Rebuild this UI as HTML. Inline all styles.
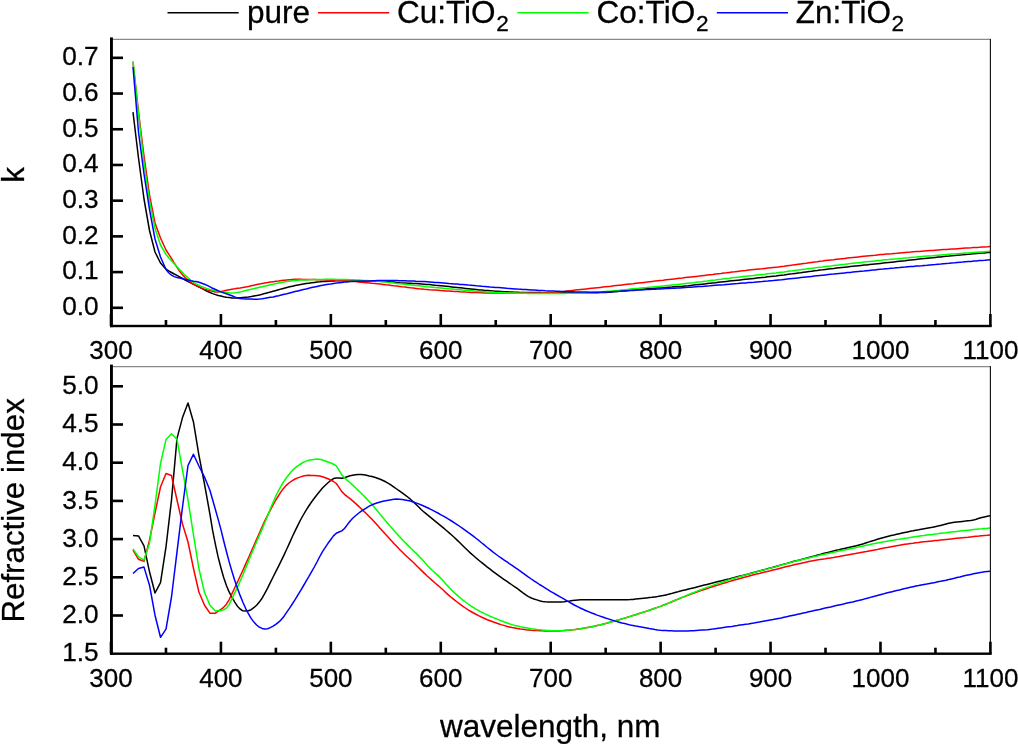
<!DOCTYPE html>
<html lang="en"><head><meta charset="utf-8"><title>k and refractive index vs wavelength</title>
<style>
html,body{margin:0;padding:0;background:#ffffff;}
body{width:1018px;height:744px;overflow:hidden;}
svg{display:block;}
text{font-family:"Liberation Sans",Arial,Helvetica,sans-serif;fill:#000000;stroke:#000000;stroke-width:0.28px;}
.tl{font-size:26px;}
.yl{font-size:26.2px;}
.ti{font-size:31.5px;}
.ti2{font-size:31.3px;}
.sub{font-size:22.6px;}
.c{fill:none;stroke-width:1.5;stroke-linejoin:round;stroke-linecap:butt;}
</style></head><body>
<svg width="1018" height="744" viewBox="0 0 1018 744">
<rect x="0" y="0" width="1018" height="744" fill="#ffffff"/>
<g id="top-curves">
<polyline class="c" stroke="#000000" points="133.0,112.2 138.5,158.0 144.0,199.0 149.5,230.5 155.0,252.0 160.5,263.0 166.0,269.2 168.7,270.9 171.5,272.5 174.2,274.0 177.0,275.4 179.7,276.8 182.5,278.3 185.2,280.0 188.0,281.5 190.7,282.9 193.5,284.3 196.2,285.6 199.0,287.0 201.7,288.4 204.5,289.9 207.2,291.3 210.0,292.5 212.7,293.6 215.5,294.6 218.2,295.5 221.0,296.1 223.7,296.7 226.4,297.2 229.2,297.5 231.9,297.9 234.7,298.1 237.4,298.1 240.2,297.8 242.9,297.5 245.7,297.2 248.4,296.9 251.2,296.5 253.9,296.0 256.7,295.5 259.4,294.9 262.2,294.2 264.9,293.4 267.7,292.7 270.4,292.0 273.2,291.2 275.9,290.5 278.7,289.7 281.4,288.9 284.1,288.2 286.9,287.5 289.6,286.8 292.4,286.2 295.1,285.6 297.9,285.1 300.6,284.6 303.4,284.1 306.1,283.6 308.9,283.2 311.6,282.8 314.4,282.4 317.1,282.0 319.9,281.8 322.6,281.5 325.4,281.4 328.1,281.2 330.9,281.0 333.6,280.9 336.4,280.8 339.1,280.8 341.9,280.8 344.6,280.8 347.3,280.8 350.1,280.8 352.8,280.8 355.6,280.8 358.3,280.8 361.1,280.9 363.8,280.9 366.6,281.0 369.3,281.0 372.1,281.1 374.8,281.2 377.6,281.3 380.3,281.3 383.1,281.4 385.8,281.6 388.6,281.7 391.3,281.9 394.1,282.1 396.8,282.4 399.6,282.7 402.3,282.9 405.0,283.0 407.8,283.2 410.5,283.3 413.3,283.5 416.0,283.6 418.8,283.8 421.5,284.0 424.3,284.2 427.0,284.4 429.8,284.6 432.5,284.9 435.3,285.2 438.0,285.4 440.8,285.7 443.5,286.0 446.3,286.3 449.0,286.6 451.8,286.9 454.5,287.2 457.3,287.5 460.0,287.8 462.7,288.1 465.5,288.4 468.2,288.7 471.0,289.0 473.7,289.3 476.5,289.6 479.2,289.9 482.0,290.1 484.7,290.4 487.5,290.6 490.2,290.8 493.0,291.0 495.7,291.2 498.5,291.3 501.2,291.5 504.0,291.7 506.7,291.8 509.5,292.0 512.2,292.1 515.0,292.2 517.7,292.3 520.4,292.4 523.2,292.4 525.9,292.5 528.7,292.5 531.4,292.5 534.2,292.6 536.9,292.6 539.7,292.6 542.4,292.7 545.2,292.7 547.9,292.7 550.7,292.7 553.4,292.7 556.2,292.7 558.9,292.7 561.7,292.7 564.4,292.7 567.2,292.7 569.9,292.7 572.7,292.7 575.4,292.7 578.1,292.7 580.9,292.7 583.6,292.7 586.4,292.7 589.1,292.7 591.9,292.7 594.6,292.7 597.4,292.7 600.1,292.6 602.9,292.5 605.6,292.4 608.4,292.2 611.1,292.0 613.9,291.8 616.6,291.5 619.4,291.3 622.1,291.0 624.9,290.7 627.6,290.5 630.4,290.2 633.1,289.9 635.9,289.7 638.6,289.4 641.3,289.2 644.1,289.0 646.8,288.8 649.6,288.6 652.3,288.4 655.1,288.2 657.8,288.0 660.6,287.9 663.3,287.7 666.1,287.5 668.8,287.3 671.6,287.1 674.3,286.8 677.1,286.6 679.8,286.4 682.6,286.2 685.3,285.9 688.1,285.7 690.8,285.4 693.6,285.1 696.3,284.8 699.0,284.5 701.8,284.2 704.5,283.9 707.3,283.6 710.0,283.3 712.8,283.0 715.5,282.7 718.3,282.3 721.0,282.0 723.8,281.7 726.5,281.4 729.3,281.1 732.0,280.8 734.8,280.5 737.5,280.2 740.3,279.9 743.0,279.6 745.8,279.3 748.5,279.0 751.3,278.7 754.0,278.4 756.7,278.1 759.5,277.8 762.2,277.5 765.0,277.2 767.7,276.8 770.5,276.5 773.2,276.2 776.0,275.9 778.7,275.5 781.5,275.2 784.2,274.9 787.0,274.5 789.7,274.1 792.5,273.8 795.2,273.4 798.0,273.0 800.7,272.7 803.5,272.3 806.2,271.9 809.0,271.5 811.7,271.2 814.4,270.8 817.2,270.5 819.9,270.1 822.7,269.8 825.4,269.4 828.2,269.1 830.9,268.8 833.7,268.5 836.4,268.1 839.2,267.8 841.9,267.5 844.7,267.2 847.4,266.9 850.2,266.6 852.9,266.3 855.7,266.0 858.4,265.7 861.2,265.4 863.9,265.1 866.7,264.9 869.4,264.6 872.2,264.3 874.9,264.0 877.6,263.7 880.4,263.4 883.1,263.1 885.9,262.8 888.6,262.5 891.4,262.2 894.1,261.9 896.9,261.6 899.6,261.3 902.4,261.0 905.1,260.7 907.9,260.3 910.6,260.0 913.4,259.7 916.1,259.4 918.9,259.1 921.6,258.8 924.4,258.6 927.1,258.3 929.9,258.0 932.6,257.7 935.3,257.4 938.1,257.1 940.8,256.9 943.6,256.6 946.3,256.3 949.1,256.1 951.8,255.8 954.6,255.6 957.3,255.3 960.1,255.0 962.8,254.8 965.6,254.5 968.3,254.3 971.1,254.0 973.8,253.8 976.6,253.6 979.3,253.3 982.1,253.1 984.8,252.9 987.6,252.6 990.3,252.4"/>
<polyline class="c" stroke="#ff0000" points="133.0,62.5 138.5,112.0 144.0,156.0 149.5,195.1 155.0,223.0 160.5,238.0 166.0,250.0 168.7,254.2 171.5,258.4 174.2,262.9 177.0,267.3 179.7,271.3 182.5,274.8 185.2,277.8 188.0,280.3 190.7,282.4 193.5,284.1 196.2,285.6 199.0,286.9 201.7,288.1 204.5,289.1 207.2,289.9 210.0,290.6 212.7,291.3 215.5,291.9 218.2,291.9 221.0,291.6 223.7,290.9 226.4,290.2 229.2,289.7 231.9,289.2 234.7,288.8 237.4,288.3 240.2,287.9 242.9,287.4 245.7,286.9 248.4,286.4 251.2,285.8 253.9,285.2 256.7,284.6 259.4,284.1 262.2,283.5 264.9,283.0 267.7,282.6 270.4,282.1 273.2,281.7 275.9,281.3 278.7,281.0 281.4,280.6 284.1,280.3 286.9,280.0 289.6,279.7 292.4,279.5 295.1,279.3 297.9,279.3 300.6,279.3 303.4,279.4 306.1,279.4 308.9,279.5 311.6,279.6 314.4,279.6 317.1,279.7 319.9,279.8 322.6,279.8 325.4,279.9 328.1,280.0 330.9,280.1 333.6,280.2 336.4,280.3 339.1,280.4 341.9,280.5 344.6,280.7 347.3,280.8 350.1,281.0 352.8,281.3 355.6,281.6 358.3,281.9 361.1,282.2 363.8,282.5 366.6,282.7 369.3,283.0 372.1,283.3 374.8,283.5 377.6,283.8 380.3,284.1 383.1,284.4 385.8,284.8 388.6,285.1 391.3,285.4 394.1,285.8 396.8,286.1 399.6,286.4 402.3,286.8 405.0,287.1 407.8,287.4 410.5,287.8 413.3,288.1 416.0,288.4 418.8,288.7 421.5,288.9 424.3,289.2 427.0,289.4 429.8,289.7 432.5,289.9 435.3,290.1 438.0,290.3 440.8,290.6 443.5,290.8 446.3,291.0 449.0,291.1 451.8,291.3 454.5,291.5 457.3,291.6 460.0,291.8 462.7,291.9 465.5,292.1 468.2,292.2 471.0,292.4 473.7,292.5 476.5,292.6 479.2,292.7 482.0,292.8 484.7,292.9 487.5,292.9 490.2,292.9 493.0,292.9 495.7,292.9 498.5,292.9 501.2,292.9 504.0,292.9 506.7,292.9 509.5,292.9 512.2,292.9 515.0,292.9 517.7,292.9 520.4,292.9 523.2,292.9 525.9,292.9 528.7,292.9 531.4,292.9 534.2,292.9 536.9,292.9 539.7,292.9 542.4,292.8 545.2,292.8 547.9,292.7 550.7,292.7 553.4,292.6 556.2,292.4 558.9,292.1 561.7,291.8 564.4,291.4 567.2,291.0 569.9,290.7 572.7,290.4 575.4,290.1 578.1,289.8 580.9,289.5 583.6,289.2 586.4,288.9 589.1,288.6 591.9,288.3 594.6,288.0 597.4,287.7 600.1,287.4 602.9,287.1 605.6,286.8 608.4,286.5 611.1,286.2 613.9,285.8 616.6,285.5 619.4,285.2 622.1,284.9 624.9,284.6 627.6,284.3 630.4,284.0 633.1,283.7 635.9,283.3 638.6,283.0 641.3,282.7 644.1,282.4 646.8,282.1 649.6,281.7 652.3,281.4 655.1,281.1 657.8,280.8 660.6,280.5 663.3,280.2 666.1,279.8 668.8,279.5 671.6,279.2 674.3,278.9 677.1,278.6 679.8,278.3 682.6,278.0 685.3,277.6 688.1,277.3 690.8,277.0 693.6,276.7 696.3,276.4 699.0,276.1 701.8,275.7 704.5,275.4 707.3,275.1 710.0,274.8 712.8,274.5 715.5,274.1 718.3,273.8 721.0,273.5 723.8,273.1 726.5,272.8 729.3,272.4 732.0,272.1 734.8,271.8 737.5,271.4 740.3,271.1 743.0,270.8 745.8,270.5 748.5,270.1 751.3,269.8 754.0,269.5 756.7,269.2 759.5,268.9 762.2,268.7 765.0,268.4 767.7,268.1 770.5,267.8 773.2,267.5 776.0,267.2 778.7,266.9 781.5,266.5 784.2,266.2 787.0,265.8 789.7,265.4 792.5,265.1 795.2,264.7 798.0,264.3 800.7,263.9 803.5,263.5 806.2,263.2 809.0,262.8 811.7,262.4 814.4,262.0 817.2,261.7 819.9,261.3 822.7,261.0 825.4,260.6 828.2,260.3 830.9,260.0 833.7,259.7 836.4,259.3 839.2,259.0 841.9,258.7 844.7,258.4 847.4,258.1 850.2,257.8 852.9,257.5 855.7,257.2 858.4,256.9 861.2,256.6 863.9,256.3 866.7,256.0 869.4,255.7 872.2,255.4 874.9,255.2 877.6,254.9 880.4,254.6 883.1,254.4 885.9,254.1 888.6,253.9 891.4,253.7 894.1,253.4 896.9,253.2 899.6,252.9 902.4,252.7 905.1,252.5 907.9,252.3 910.6,252.1 913.4,251.8 916.1,251.6 918.9,251.4 921.6,251.2 924.4,251.0 927.1,250.8 929.9,250.6 932.6,250.4 935.3,250.2 938.1,250.0 940.8,249.8 943.6,249.6 946.3,249.4 949.1,249.2 951.8,249.0 954.6,248.9 957.3,248.7 960.1,248.5 962.8,248.3 965.6,248.1 968.3,247.9 971.1,247.8 973.8,247.6 976.6,247.4 979.3,247.3 982.1,247.1 984.8,246.9 987.6,246.8 990.3,246.6"/>
<polyline class="c" stroke="#00ff00" points="133.0,61.2 138.5,114.0 144.0,163.0 149.5,201.2 155.0,228.3 160.5,245.0 166.0,254.5 168.7,257.7 171.5,260.8 174.2,263.8 177.0,266.8 179.7,269.7 182.5,272.6 185.2,275.4 188.0,277.9 190.7,280.1 193.5,282.1 196.2,283.8 199.0,285.3 201.7,286.6 204.5,287.6 207.2,288.6 210.0,289.4 212.7,290.1 215.5,290.8 218.2,291.4 221.0,291.9 223.7,292.4 226.4,292.6 229.2,292.8 231.9,292.9 234.7,292.8 237.4,292.6 240.2,292.1 242.9,291.3 245.7,290.6 248.4,289.9 251.2,289.2 253.9,288.6 256.7,287.9 259.4,287.3 262.2,286.7 264.9,286.1 267.7,285.4 270.4,284.8 273.2,284.2 275.9,283.6 278.7,283.1 281.4,282.6 284.1,282.1 286.9,281.6 289.6,281.2 292.4,280.8 295.1,280.5 297.9,280.3 300.6,280.1 303.4,280.0 306.1,279.9 308.9,279.7 311.6,279.7 314.4,279.6 317.1,279.5 319.9,279.4 322.6,279.4 325.4,279.3 328.1,279.3 330.9,279.3 333.6,279.3 336.4,279.4 339.1,279.4 341.9,279.5 344.6,279.5 347.3,279.6 350.1,279.7 352.8,279.8 355.6,280.0 358.3,280.1 361.1,280.3 363.8,280.5 366.6,280.6 369.3,280.8 372.1,280.9 374.8,281.1 377.6,281.2 380.3,281.5 383.1,281.7 385.8,282.0 388.6,282.4 391.3,282.7 394.1,283.1 396.8,283.4 399.6,283.7 402.3,284.0 405.0,284.3 407.8,284.6 410.5,284.9 413.3,285.2 416.0,285.5 418.8,285.8 421.5,286.1 424.3,286.4 427.0,286.7 429.8,286.9 432.5,287.2 435.3,287.5 438.0,287.7 440.8,288.0 443.5,288.3 446.3,288.5 449.0,288.8 451.8,289.0 454.5,289.3 457.3,289.5 460.0,289.7 462.7,290.0 465.5,290.2 468.2,290.5 471.0,290.7 473.7,290.9 476.5,291.2 479.2,291.4 482.0,291.6 484.7,291.8 487.5,292.0 490.2,292.1 493.0,292.2 495.7,292.4 498.5,292.5 501.2,292.6 504.0,292.7 506.7,292.9 509.5,293.0 512.2,293.0 515.0,293.1 517.7,293.2 520.4,293.3 523.2,293.3 525.9,293.3 528.7,293.4 531.4,293.4 534.2,293.4 536.9,293.4 539.7,293.4 542.4,293.5 545.2,293.5 547.9,293.5 550.7,293.5 553.4,293.5 556.2,293.5 558.9,293.5 561.7,293.4 564.4,293.4 567.2,293.3 569.9,293.3 572.7,293.2 575.4,293.1 578.1,293.0 580.9,292.9 583.6,292.7 586.4,292.6 589.1,292.5 591.9,292.4 594.6,292.2 597.4,292.1 600.1,291.9 602.9,291.7 605.6,291.5 608.4,291.3 611.1,291.1 613.9,290.8 616.6,290.5 619.4,290.3 622.1,290.0 624.9,289.7 627.6,289.4 630.4,289.1 633.1,288.8 635.9,288.5 638.6,288.3 641.3,288.0 644.1,287.7 646.8,287.5 649.6,287.2 652.3,287.0 655.1,286.7 657.8,286.4 660.6,286.2 663.3,285.9 666.1,285.6 668.8,285.4 671.6,285.1 674.3,284.8 677.1,284.5 679.8,284.2 682.6,283.9 685.3,283.6 688.1,283.3 690.8,283.0 693.6,282.7 696.3,282.3 699.0,282.0 701.8,281.7 704.5,281.3 707.3,281.0 710.0,280.6 712.8,280.2 715.5,279.9 718.3,279.5 721.0,279.2 723.8,278.8 726.5,278.5 729.3,278.2 732.0,277.8 734.8,277.5 737.5,277.2 740.3,276.9 743.0,276.6 745.8,276.3 748.5,276.0 751.3,275.7 754.0,275.4 756.7,275.1 759.5,274.8 762.2,274.5 765.0,274.2 767.7,273.8 770.5,273.5 773.2,273.2 776.0,272.9 778.7,272.5 781.5,272.2 784.2,271.9 787.0,271.5 789.7,271.1 792.5,270.8 795.2,270.4 798.0,270.1 800.7,269.7 803.5,269.3 806.2,269.0 809.0,268.6 811.7,268.3 814.4,267.9 817.2,267.5 819.9,267.2 822.7,266.9 825.4,266.5 828.2,266.2 830.9,265.9 833.7,265.5 836.4,265.2 839.2,264.9 841.9,264.6 844.7,264.3 847.4,263.9 850.2,263.6 852.9,263.3 855.7,263.0 858.4,262.7 861.2,262.4 863.9,262.1 866.7,261.8 869.4,261.5 872.2,261.2 874.9,260.9 877.6,260.6 880.4,260.4 883.1,260.1 885.9,259.8 888.6,259.6 891.4,259.3 894.1,259.0 896.9,258.8 899.6,258.5 902.4,258.3 905.1,258.0 907.9,257.8 910.6,257.5 913.4,257.3 916.1,257.1 918.9,256.8 921.6,256.6 924.4,256.3 927.1,256.1 929.9,255.9 932.6,255.7 935.3,255.4 938.1,255.2 940.8,255.0 943.6,254.8 946.3,254.6 949.1,254.3 951.8,254.1 954.6,253.9 957.3,253.7 960.1,253.5 962.8,253.3 965.6,253.1 968.3,252.9 971.1,252.7 973.8,252.5 976.6,252.3 979.3,252.1 982.1,251.9 984.8,251.7 987.6,251.5 990.3,251.3"/>
<polyline class="c" stroke="#0000ff" points="133.0,67.0 138.5,132.0 144.0,174.0 149.5,209.3 155.0,239.0 160.5,257.0 166.0,269.5 168.7,272.8 171.5,275.2 174.2,276.6 177.0,277.5 179.7,278.1 182.5,278.7 185.2,279.5 188.0,280.1 190.7,280.7 193.5,281.2 196.2,281.6 199.0,282.3 201.7,283.2 204.5,284.2 207.2,285.4 210.0,286.8 212.7,288.3 215.5,289.5 218.2,290.8 221.0,291.9 223.7,292.9 226.4,293.8 229.2,294.7 231.9,295.7 234.7,296.9 237.4,297.9 240.2,298.4 242.9,298.7 245.7,298.9 248.4,299.0 251.2,299.1 253.9,299.2 256.7,299.2 259.4,299.0 262.2,298.7 264.9,298.3 267.7,297.8 270.4,297.3 273.2,296.9 275.9,296.3 278.7,295.7 281.4,295.0 284.1,294.3 286.9,293.7 289.6,293.0 292.4,292.3 295.1,291.6 297.9,290.9 300.6,290.2 303.4,289.5 306.1,288.9 308.9,288.2 311.6,287.6 314.4,287.0 317.1,286.4 319.9,285.8 322.6,285.3 325.4,284.8 328.1,284.3 330.9,283.9 333.6,283.4 336.4,283.1 339.1,282.7 341.9,282.4 344.6,282.1 347.3,281.9 350.1,281.6 352.8,281.4 355.6,281.3 358.3,281.2 361.1,281.1 363.8,281.0 366.6,280.9 369.3,280.9 372.1,280.8 374.8,280.7 377.6,280.6 380.3,280.6 383.1,280.5 385.8,280.5 388.6,280.5 391.3,280.5 394.1,280.5 396.8,280.6 399.6,280.7 402.3,280.8 405.0,280.8 407.8,280.9 410.5,281.0 413.3,281.1 416.0,281.3 418.8,281.4 421.5,281.5 424.3,281.6 427.0,281.8 429.8,282.0 432.5,282.2 435.3,282.4 438.0,282.6 440.8,282.8 443.5,283.0 446.3,283.2 449.0,283.5 451.8,283.7 454.5,283.9 457.3,284.1 460.0,284.4 462.7,284.6 465.5,284.8 468.2,285.1 471.0,285.3 473.7,285.5 476.5,285.8 479.2,286.0 482.0,286.3 484.7,286.5 487.5,286.7 490.2,287.0 493.0,287.2 495.7,287.4 498.5,287.6 501.2,287.8 504.0,288.0 506.7,288.3 509.5,288.5 512.2,288.7 515.0,288.9 517.7,289.1 520.4,289.2 523.2,289.4 525.9,289.6 528.7,289.8 531.4,290.0 534.2,290.1 536.9,290.3 539.7,290.5 542.4,290.6 545.2,290.8 547.9,290.9 550.7,291.0 553.4,291.1 556.2,291.2 558.9,291.3 561.7,291.4 564.4,291.5 567.2,291.6 569.9,291.7 572.7,291.8 575.4,291.9 578.1,292.0 580.9,292.0 583.6,292.1 586.4,292.1 589.1,292.2 591.9,292.2 594.6,292.2 597.4,292.2 600.1,292.2 602.9,292.1 605.6,292.0 608.4,291.9 611.1,291.7 613.9,291.6 616.6,291.4 619.4,291.3 622.1,291.1 624.9,290.9 627.6,290.7 630.4,290.5 633.1,290.4 635.9,290.2 638.6,290.0 641.3,289.9 644.1,289.8 646.8,289.6 649.6,289.5 652.3,289.3 655.1,289.2 657.8,289.1 660.6,288.9 663.3,288.8 666.1,288.6 668.8,288.5 671.6,288.3 674.3,288.2 677.1,288.0 679.8,287.9 682.6,287.7 685.3,287.5 688.1,287.3 690.8,287.2 693.6,287.0 696.3,286.8 699.0,286.6 701.8,286.4 704.5,286.2 707.3,286.0 710.0,285.8 712.8,285.5 715.5,285.3 718.3,285.1 721.0,284.9 723.8,284.7 726.5,284.4 729.3,284.2 732.0,284.0 734.8,283.8 737.5,283.6 740.3,283.3 743.0,283.1 745.8,282.9 748.5,282.6 751.3,282.4 754.0,282.2 756.7,281.9 759.5,281.7 762.2,281.5 765.0,281.2 767.7,281.0 770.5,280.7 773.2,280.5 776.0,280.2 778.7,279.9 781.5,279.7 784.2,279.4 787.0,279.1 789.7,278.8 792.5,278.5 795.2,278.2 798.0,277.9 800.7,277.6 803.5,277.3 806.2,277.0 809.0,276.7 811.7,276.4 814.4,276.1 817.2,275.8 819.9,275.5 822.7,275.2 825.4,274.9 828.2,274.6 830.9,274.3 833.7,274.1 836.4,273.8 839.2,273.5 841.9,273.2 844.7,272.9 847.4,272.6 850.2,272.4 852.9,272.1 855.7,271.8 858.4,271.5 861.2,271.2 863.9,271.0 866.7,270.7 869.4,270.4 872.2,270.1 874.9,269.9 877.6,269.6 880.4,269.3 883.1,269.1 885.9,268.8 888.6,268.6 891.4,268.3 894.1,268.1 896.9,267.8 899.6,267.6 902.4,267.3 905.1,267.1 907.9,266.8 910.6,266.6 913.4,266.4 916.1,266.1 918.9,265.9 921.6,265.7 924.4,265.4 927.1,265.2 929.9,264.9 932.6,264.7 935.3,264.5 938.1,264.2 940.8,264.0 943.6,263.7 946.3,263.5 949.1,263.3 951.8,263.0 954.6,262.8 957.3,262.5 960.1,262.3 962.8,262.1 965.6,261.8 968.3,261.6 971.1,261.4 973.8,261.1 976.6,260.9 979.3,260.6 982.1,260.4 984.8,260.2 987.6,259.9 990.3,259.7"/>
</g>
<g id="bottom-curves">
<polyline class="c" stroke="#000000" points="133.0,535.4 138.5,535.9 144.0,545.9 149.5,571.8 155.0,593.0 160.5,582.7 166.0,546.8 171.5,500.0 177.0,438.4 182.5,417.6 188.0,403.0 193.4,421.7 198.9,455.1 204.4,483.5 209.9,514.0 212.6,530.4 215.4,544.4 218.1,556.9 220.9,567.7 223.6,577.3 226.4,585.5 229.1,591.9 231.9,597.2 234.6,601.9 237.4,606.2 240.1,609.0 242.9,610.8 245.6,610.9 248.4,610.7 251.1,609.7 253.8,607.7 256.6,605.3 259.3,602.1 262.1,598.2 264.8,593.3 267.6,588.1 270.3,582.6 273.1,577.0 275.8,571.6 278.6,566.2 281.3,560.6 284.1,554.8 286.8,549.0 289.6,542.9 292.3,536.8 295.1,530.9 297.8,525.3 300.5,520.0 303.3,515.0 306.0,510.3 308.8,506.0 311.5,502.0 314.3,498.2 317.0,494.7 319.8,491.3 322.5,488.0 325.3,485.2 328.0,482.8 330.8,480.4 333.5,478.6 336.3,477.9 339.0,478.1 341.7,478.3 344.5,477.8 347.2,476.8 350.0,475.8 352.7,475.3 355.5,474.8 358.2,474.5 361.0,474.4 363.7,474.7 366.5,475.2 369.2,475.9 372.0,476.5 374.7,477.3 377.5,478.3 380.2,479.3 383.0,480.5 385.7,481.8 388.4,483.4 391.2,485.2 393.9,487.1 396.7,489.0 399.4,490.8 402.2,492.8 404.9,494.8 407.7,497.0 410.4,499.2 413.2,501.7 415.9,504.3 418.7,507.0 421.4,509.7 424.2,512.2 426.9,514.4 429.6,516.6 432.4,518.9 435.1,521.1 437.9,523.4 440.6,525.6 443.4,527.9 446.1,530.2 448.9,532.6 451.6,535.0 454.4,537.5 457.1,540.1 459.9,542.8 462.6,545.5 465.4,548.2 468.1,550.8 470.8,553.4 473.6,555.8 476.3,558.2 479.1,560.5 481.8,562.7 484.6,564.9 487.3,567.1 490.1,569.2 492.8,571.3 495.6,573.4 498.3,575.4 501.1,577.4 503.8,579.3 506.6,581.2 509.3,583.1 512.1,585.0 514.8,586.8 517.5,588.7 520.3,590.8 523.0,592.9 525.8,594.9 528.5,596.6 531.3,598.0 534.0,599.0 536.8,599.9 539.5,600.8 542.3,601.4 545.0,601.8 547.8,601.9 550.5,601.9 553.3,601.9 556.0,601.9 558.7,601.9 561.5,601.9 564.2,601.7 567.0,601.3 569.7,601.0 572.5,600.6 575.2,600.2 578.0,599.9 580.7,599.8 583.5,599.8 586.2,599.8 589.0,599.8 591.7,599.8 594.5,599.8 597.2,599.8 600.0,599.8 602.7,599.8 605.4,599.8 608.2,599.8 610.9,599.8 613.7,599.8 616.4,599.8 619.2,599.8 621.9,599.8 624.7,599.8 627.4,599.7 630.2,599.6 632.9,599.4 635.7,599.1 638.4,598.8 641.2,598.5 643.9,598.2 646.6,597.9 649.4,597.6 652.1,597.3 654.9,596.9 657.6,596.5 660.4,596.0 663.1,595.5 665.9,594.9 668.6,594.3 671.4,593.6 674.1,592.8 676.9,592.1 679.6,591.3 682.4,590.6 685.1,589.9 687.8,589.2 690.6,588.6 693.3,587.9 696.1,587.2 698.8,586.5 701.6,585.8 704.3,585.1 707.1,584.4 709.8,583.7 712.6,583.0 715.3,582.3 718.1,581.6 720.8,580.9 723.6,580.2 726.3,579.5 729.1,578.9 731.8,578.2 734.5,577.5 737.3,576.8 740.0,576.1 742.8,575.4 745.5,574.7 748.3,574.0 751.0,573.2 753.8,572.5 756.5,571.8 759.3,571.0 762.0,570.3 764.8,569.6 767.5,568.8 770.3,568.0 773.0,567.3 775.7,566.5 778.5,565.7 781.2,564.9 784.0,564.1 786.7,563.4 789.5,562.6 792.2,561.8 795.0,561.1 797.7,560.4 800.5,559.7 803.2,558.9 806.0,558.2 808.7,557.5 811.5,556.8 814.2,556.1 816.9,555.3 819.7,554.6 822.4,553.8 825.2,553.1 827.9,552.4 830.7,551.7 833.4,551.0 836.2,550.3 838.9,549.7 841.7,549.0 844.4,548.4 847.2,547.8 849.9,547.2 852.7,546.6 855.4,545.9 858.2,545.2 860.9,544.5 863.6,543.7 866.4,542.8 869.1,541.9 871.9,541.0 874.6,540.2 877.4,539.3 880.1,538.5 882.9,537.7 885.6,537.0 888.4,536.3 891.1,535.6 893.9,535.0 896.6,534.3 899.4,533.7 902.1,533.1 904.8,532.5 907.6,531.9 910.3,531.3 913.1,530.8 915.8,530.2 918.6,529.8 921.3,529.3 924.1,528.8 926.8,528.3 929.6,527.8 932.3,527.3 935.1,526.7 937.8,526.1 940.6,525.4 943.3,524.7 946.1,524.0 948.8,523.3 951.5,522.8 954.3,522.3 957.0,522.0 959.8,521.7 962.5,521.4 965.3,521.1 968.0,520.7 970.8,520.4 973.5,519.9 976.3,519.2 979.0,518.3 981.8,517.5 984.5,516.9 987.3,516.3 990.0,515.8"/>
<polyline class="c" stroke="#ff0000" points="133.0,550.1 138.5,559.3 144.0,561.4 149.5,540.1 155.0,513.0 160.5,487.0 166.0,473.5 171.5,475.5 177.0,500.0 182.5,524.0 188.0,542.0 193.5,568.5 198.9,592.0 204.4,605.0 209.9,613.2 215.4,613.2 220.9,609.4 223.6,607.3 226.4,604.2 229.1,599.8 231.9,593.9 234.6,588.0 237.4,582.2 240.1,576.2 242.9,570.2 245.6,564.1 248.4,558.0 251.1,551.8 253.9,545.5 256.6,539.2 259.4,533.0 262.1,526.8 264.8,520.8 267.6,515.3 270.3,510.2 273.1,505.0 275.8,500.0 278.6,495.5 281.3,491.4 284.1,487.7 286.8,484.8 289.6,482.5 292.3,480.6 295.1,479.0 297.8,477.9 300.6,476.9 303.3,476.0 306.1,475.5 308.8,475.3 311.5,475.4 314.3,475.5 317.0,475.7 319.8,476.0 322.5,476.7 325.3,477.7 328.0,478.8 330.8,480.0 333.5,481.5 336.3,483.5 339.0,487.4 341.8,491.6 344.5,494.3 347.3,496.6 350.0,498.7 352.7,500.9 355.5,503.4 358.2,505.9 361.0,508.5 363.7,511.1 366.5,513.8 369.2,516.5 372.0,519.3 374.7,522.3 377.5,525.3 380.2,528.4 383.0,531.5 385.7,534.5 388.5,537.5 391.2,540.4 393.9,543.4 396.7,546.3 399.4,549.2 402.2,552.0 404.9,554.7 407.7,557.2 410.4,559.7 413.2,562.3 415.9,565.0 418.7,567.7 421.4,570.4 424.2,573.1 426.9,575.7 429.7,578.2 432.4,580.6 435.1,583.0 437.9,585.3 440.6,587.8 443.4,590.3 446.1,592.9 448.9,595.4 451.6,597.7 454.4,599.9 457.1,602.0 459.9,604.1 462.6,606.1 465.4,608.0 468.1,609.8 470.9,611.5 473.6,613.0 476.4,614.5 479.1,615.9 481.8,617.2 484.6,618.5 487.3,619.7 490.1,620.8 492.8,621.8 495.6,622.8 498.3,623.7 501.1,624.6 503.8,625.4 506.6,626.2 509.3,626.9 512.1,627.6 514.8,628.1 517.6,628.6 520.3,629.0 523.0,629.3 525.8,629.7 528.5,630.0 531.3,630.3 534.0,630.5 536.8,630.6 539.5,630.8 542.3,630.8 545.0,630.9 547.8,631.0 550.5,631.1 553.3,631.1 556.0,631.1 558.8,631.0 561.5,630.8 564.2,630.6 567.0,630.3 569.7,630.1 572.5,629.8 575.2,629.5 578.0,629.1 580.7,628.7 583.5,628.2 586.2,627.8 589.0,627.3 591.7,626.8 594.5,626.2 597.2,625.6 600.0,625.0 602.7,624.3 605.4,623.6 608.2,622.8 610.9,622.1 613.7,621.3 616.4,620.5 619.2,619.7 621.9,618.9 624.7,618.1 627.4,617.3 630.2,616.4 632.9,615.5 635.7,614.7 638.4,613.8 641.2,612.9 643.9,612.0 646.7,611.1 649.4,610.2 652.1,609.3 654.9,608.3 657.6,607.4 660.4,606.4 663.1,605.3 665.9,604.2 668.6,603.1 671.4,602.0 674.1,600.8 676.9,599.6 679.6,598.5 682.4,597.4 685.1,596.4 687.9,595.3 690.6,594.3 693.3,593.3 696.1,592.3 698.8,591.4 701.6,590.4 704.3,589.5 707.1,588.5 709.8,587.6 712.6,586.7 715.3,585.8 718.1,585.0 720.8,584.1 723.6,583.3 726.3,582.5 729.1,581.6 731.8,580.8 734.5,580.0 737.3,579.3 740.0,578.5 742.8,577.7 745.5,577.0 748.3,576.3 751.0,575.5 753.8,574.8 756.5,574.1 759.3,573.5 762.0,572.8 764.8,572.1 767.5,571.4 770.3,570.8 773.0,570.1 775.8,569.4 778.5,568.7 781.2,568.0 784.0,567.3 786.7,566.6 789.5,565.9 792.2,565.3 795.0,564.6 797.7,564.0 800.5,563.4 803.2,562.8 806.0,562.2 808.7,561.6 811.5,561.1 814.2,560.6 817.0,560.1 819.7,559.6 822.4,559.2 825.2,558.8 827.9,558.3 830.7,557.9 833.4,557.5 836.2,557.0 838.9,556.6 841.7,556.1 844.4,555.6 847.2,555.1 849.9,554.6 852.7,554.1 855.4,553.6 858.2,553.0 860.9,552.5 863.6,552.0 866.4,551.5 869.1,550.9 871.9,550.4 874.6,549.9 877.4,549.4 880.1,548.8 882.9,548.3 885.6,547.8 888.4,547.3 891.1,546.7 893.9,546.2 896.6,545.7 899.4,545.3 902.1,544.8 904.8,544.3 907.6,543.9 910.3,543.5 913.1,543.2 915.8,542.8 918.6,542.5 921.3,542.1 924.1,541.8 926.8,541.5 929.6,541.2 932.3,540.9 935.1,540.6 937.8,540.4 940.6,540.1 943.3,539.8 946.1,539.5 948.8,539.2 951.5,538.9 954.3,538.6 957.0,538.3 959.8,538.0 962.5,537.7 965.3,537.4 968.0,537.2 970.8,536.9 973.5,536.6 976.3,536.3 979.0,536.1 981.8,535.8 984.5,535.5 987.3,535.3 990.0,535.0"/>
<polyline class="c" stroke="#00ff00" points="133.0,548.8 138.5,556.8 144.0,560.1 149.5,543.4 155.0,505.0 160.5,463.5 166.0,439.6 171.5,433.8 177.0,439.3 182.5,470.2 188.0,500.0 193.5,535.0 198.9,568.5 204.4,592.0 209.9,605.2 215.4,611.0 220.9,610.5 223.6,609.8 226.4,608.1 229.1,604.7 231.9,598.9 234.6,593.1 237.4,587.4 240.1,581.3 242.9,574.8 245.6,568.1 248.4,561.4 251.1,554.8 253.9,548.2 256.6,541.7 259.4,535.4 262.1,529.1 264.8,522.7 267.6,515.8 270.3,508.9 273.1,502.3 275.8,496.0 278.6,490.5 281.3,485.5 284.1,481.1 286.8,477.2 289.6,473.8 292.3,470.6 295.1,467.9 297.8,465.8 300.6,464.0 303.3,462.3 306.1,461.1 308.8,460.3 311.5,459.8 314.3,459.4 317.0,459.1 319.8,459.2 322.5,460.0 325.3,461.0 328.0,462.0 330.8,463.0 333.5,464.2 336.3,465.9 339.0,470.2 341.8,474.8 344.5,477.8 347.3,480.4 350.0,482.7 352.7,485.1 355.5,487.7 358.2,490.4 361.0,493.0 363.7,495.8 366.5,498.6 369.2,501.4 372.0,504.5 374.7,507.7 377.5,511.0 380.2,514.4 383.0,517.7 385.7,521.0 388.5,524.2 391.2,527.3 393.9,530.4 396.7,533.4 399.4,536.5 402.2,539.4 404.9,542.3 407.7,545.1 410.4,547.8 413.2,550.5 415.9,553.1 418.7,555.9 421.4,558.8 424.2,561.8 426.9,564.9 429.7,567.9 432.4,570.5 435.1,572.9 437.9,575.4 440.6,578.1 443.4,581.1 446.1,584.2 448.9,587.3 451.6,590.1 454.4,592.7 457.1,595.1 459.9,597.5 462.6,599.8 465.4,602.0 468.1,604.0 470.9,605.9 473.6,607.6 476.4,609.3 479.1,610.8 481.8,612.3 484.6,613.6 487.3,614.9 490.1,616.2 492.8,617.4 495.6,618.5 498.3,619.6 501.1,620.7 503.8,621.8 506.6,622.8 509.3,623.8 512.1,624.6 514.8,625.4 517.6,626.0 520.3,626.7 523.0,627.3 525.8,627.8 528.5,628.3 531.3,628.8 534.0,629.1 536.8,629.5 539.5,629.7 542.3,630.0 545.0,630.2 547.8,630.4 550.5,630.6 553.3,630.7 556.0,630.7 558.8,630.7 561.5,630.6 564.2,630.4 567.0,630.2 569.7,630.1 572.5,629.8 575.2,629.5 578.0,629.2 580.7,628.8 583.5,628.3 586.2,627.8 589.0,627.3 591.7,626.8 594.5,626.2 597.2,625.6 600.0,625.0 602.7,624.3 605.4,623.6 608.2,622.8 610.9,622.1 613.7,621.3 616.4,620.5 619.2,619.7 621.9,618.9 624.7,618.1 627.4,617.3 630.2,616.4 632.9,615.5 635.7,614.7 638.4,613.8 641.2,612.9 643.9,612.0 646.7,611.1 649.4,610.2 652.1,609.3 654.9,608.3 657.6,607.4 660.4,606.4 663.1,605.3 665.9,604.2 668.6,603.1 671.4,601.9 674.1,600.7 676.9,599.6 679.6,598.4 682.4,597.2 685.1,596.1 687.9,595.0 690.6,593.8 693.3,592.7 696.1,591.6 698.8,590.5 701.6,589.4 704.3,588.4 707.1,587.4 709.8,586.4 712.6,585.4 715.3,584.4 718.1,583.5 720.8,582.6 723.6,581.7 726.3,580.8 729.1,579.9 731.8,579.0 734.5,578.2 737.3,577.4 740.0,576.5 742.8,575.7 745.5,574.9 748.3,574.1 751.0,573.4 753.8,572.6 756.5,571.9 759.3,571.1 762.0,570.4 764.8,569.6 767.5,568.9 770.3,568.1 773.0,567.4 775.8,566.6 778.5,565.8 781.2,565.1 784.0,564.3 786.7,563.5 789.5,562.8 792.2,562.1 795.0,561.3 797.7,560.6 800.5,559.9 803.2,559.2 806.0,558.6 808.7,557.9 811.5,557.2 814.2,556.6 817.0,556.0 819.7,555.3 822.4,554.7 825.2,554.1 827.9,553.5 830.7,552.9 833.4,552.3 836.2,551.7 838.9,551.1 841.7,550.5 844.4,549.9 847.2,549.4 849.9,548.8 852.7,548.2 855.4,547.7 858.2,547.1 860.9,546.5 863.6,545.9 866.4,545.3 869.1,544.7 871.9,544.1 874.6,543.6 877.4,543.0 880.1,542.5 882.9,542.0 885.6,541.5 888.4,541.0 891.1,540.5 893.9,540.1 896.6,539.6 899.4,539.2 902.1,538.7 904.8,538.3 907.6,537.9 910.3,537.4 913.1,537.0 915.8,536.6 918.6,536.2 921.3,535.8 924.1,535.5 926.8,535.1 929.6,534.7 932.3,534.4 935.1,534.0 937.8,533.7 940.6,533.3 943.3,533.0 946.1,532.7 948.8,532.3 951.5,532.0 954.3,531.7 957.0,531.4 959.8,531.1 962.5,530.8 965.3,530.5 968.0,530.2 970.8,529.9 973.5,529.6 976.3,529.3 979.0,529.0 981.8,528.8 984.5,528.5 987.3,528.3 990.0,528.0"/>
<polyline class="c" stroke="#0000ff" points="133.0,573.5 138.5,568.5 144.0,567.1 149.5,585.2 155.0,615.2 160.5,637.3 166.0,629.2 171.5,597.0 177.0,551.8 182.5,507.0 188.0,465.5 193.4,454.3 198.9,466.0 204.4,476.8 209.9,490.2 215.4,509.5 218.1,519.1 220.9,529.4 223.6,540.5 226.4,551.5 229.1,561.6 231.9,571.2 234.6,580.0 237.4,588.1 240.1,595.4 242.9,602.2 245.6,608.3 248.4,613.6 251.1,618.4 253.9,622.1 256.6,625.0 259.3,627.1 262.1,628.4 264.8,629.1 267.6,628.7 270.3,627.6 273.1,626.2 275.8,624.4 278.6,622.2 281.3,619.6 284.1,616.2 286.8,612.2 289.6,608.1 292.3,604.0 295.1,599.7 297.8,595.2 300.6,590.6 303.3,586.0 306.0,581.3 308.8,576.7 311.5,571.9 314.3,567.0 317.0,562.0 319.8,556.5 322.5,551.7 325.3,547.3 328.0,543.3 330.8,539.5 333.5,535.9 336.3,533.2 339.0,532.0 341.8,530.9 344.5,528.5 347.2,524.9 350.0,521.2 352.7,518.3 355.5,515.8 358.2,513.5 361.0,511.4 363.7,509.6 366.5,507.8 369.2,506.2 372.0,504.8 374.7,503.8 377.5,502.8 380.2,502.0 383.0,501.3 385.7,500.7 388.4,500.2 391.2,499.7 393.9,499.3 396.7,499.1 399.4,499.2 402.2,499.5 404.9,499.9 407.7,500.4 410.4,501.1 413.2,502.0 415.9,502.9 418.7,503.9 421.4,505.0 424.2,506.2 426.9,507.5 429.7,508.8 432.4,510.2 435.1,511.6 437.9,513.0 440.6,514.6 443.4,516.1 446.1,517.7 448.9,519.3 451.6,521.0 454.4,522.8 457.1,524.6 459.9,526.5 462.6,528.4 465.4,530.3 468.1,532.3 470.9,534.4 473.6,536.4 476.3,538.5 479.1,540.7 481.8,543.0 484.6,545.2 487.3,547.5 490.1,549.7 492.8,551.9 495.6,554.0 498.3,556.0 501.1,557.9 503.8,559.8 506.6,561.7 509.3,563.6 512.1,565.4 514.8,567.3 517.5,569.2 520.3,571.2 523.0,573.1 525.8,575.1 528.5,577.1 531.3,579.0 534.0,580.9 536.8,582.7 539.5,584.5 542.3,586.2 545.0,587.9 547.8,589.6 550.5,591.3 553.3,592.9 556.0,594.5 558.8,596.1 561.5,597.6 564.2,599.2 567.0,600.8 569.7,602.4 572.5,604.0 575.2,605.5 578.0,606.9 580.7,608.2 583.5,609.5 586.2,610.7 589.0,611.9 591.7,613.0 594.5,614.0 597.2,615.1 600.0,616.1 602.7,617.0 605.4,618.0 608.2,618.9 610.9,619.8 613.7,620.6 616.4,621.4 619.2,622.2 621.9,623.0 624.7,623.6 627.4,624.3 630.2,624.9 632.9,625.4 635.7,626.0 638.4,626.5 641.2,627.0 643.9,627.5 646.6,628.0 649.4,628.6 652.1,629.1 654.9,629.6 657.6,630.0 660.4,630.3 663.1,630.5 665.9,630.6 668.6,630.7 671.4,630.8 674.1,630.9 676.9,630.9 679.6,631.0 682.4,631.0 685.1,631.0 687.9,630.9 690.6,630.8 693.3,630.7 696.1,630.5 698.8,630.3 701.6,630.1 704.3,629.9 707.1,629.7 709.8,629.4 712.6,629.1 715.3,628.7 718.1,628.3 720.8,627.9 723.6,627.5 726.3,627.1 729.1,626.7 731.8,626.4 734.5,626.0 737.3,625.6 740.0,625.1 742.8,624.7 745.5,624.3 748.3,623.9 751.0,623.4 753.8,623.0 756.5,622.5 759.3,622.1 762.0,621.6 764.8,621.1 767.5,620.6 770.3,620.1 773.0,619.6 775.7,619.0 778.5,618.4 781.2,617.9 784.0,617.3 786.7,616.7 789.5,616.1 792.2,615.5 795.0,614.9 797.7,614.3 800.5,613.7 803.2,613.1 806.0,612.5 808.7,611.8 811.5,611.2 814.2,610.6 817.0,610.0 819.7,609.4 822.4,608.7 825.2,608.1 827.9,607.5 830.7,606.9 833.4,606.2 836.2,605.6 838.9,605.0 841.7,604.4 844.4,603.8 847.2,603.1 849.9,602.5 852.7,601.9 855.4,601.2 858.2,600.6 860.9,599.9 863.6,599.2 866.4,598.4 869.1,597.7 871.9,596.9 874.6,596.2 877.4,595.5 880.1,594.8 882.9,594.1 885.6,593.3 888.4,592.6 891.1,591.9 893.9,591.2 896.6,590.5 899.4,589.9 902.1,589.2 904.8,588.6 907.6,587.9 910.3,587.3 913.1,586.7 915.8,586.1 918.6,585.6 921.3,585.0 924.1,584.5 926.8,584.0 929.6,583.4 932.3,582.9 935.1,582.4 937.8,581.8 940.6,581.3 943.3,580.7 946.1,580.2 948.8,579.6 951.5,578.9 954.3,578.3 957.0,577.6 959.8,577.0 962.5,576.3 965.3,575.6 968.0,575.0 970.8,574.4 973.5,573.8 976.3,573.2 979.0,572.7 981.8,572.3 984.5,571.8 987.3,571.5 990.0,571.2"/>
</g>
<g id="top-axes">
<line x1="111.0" y1="39.4" x2="990.9" y2="39.4" stroke="#8a8a8a" stroke-width="1.1"/>
<line x1="990.4" y1="38.9" x2="990.4" y2="326.0" stroke="#141414" stroke-width="1.15"/>
<rect x="110.00" y="37.40" width="2.90" height="289.80" fill="#000"/>
<rect x="110.00" y="324.80" width="881.70" height="2.40" fill="#000"/>
<rect x="109.70" y="314.00" width="2.60" height="12.00" fill="#000"/>
<rect x="164.66" y="320.00" width="2.60" height="6.00" fill="#000"/>
<rect x="219.62" y="314.00" width="2.60" height="12.00" fill="#000"/>
<rect x="274.59" y="320.00" width="2.60" height="6.00" fill="#000"/>
<rect x="329.55" y="314.00" width="2.60" height="12.00" fill="#000"/>
<rect x="384.51" y="320.00" width="2.60" height="6.00" fill="#000"/>
<rect x="439.48" y="314.00" width="2.60" height="12.00" fill="#000"/>
<rect x="494.44" y="320.00" width="2.60" height="6.00" fill="#000"/>
<rect x="549.40" y="314.00" width="2.60" height="12.00" fill="#000"/>
<rect x="604.36" y="320.00" width="2.60" height="6.00" fill="#000"/>
<rect x="659.33" y="314.00" width="2.60" height="12.00" fill="#000"/>
<rect x="714.29" y="320.00" width="2.60" height="6.00" fill="#000"/>
<rect x="769.25" y="314.00" width="2.60" height="12.00" fill="#000"/>
<rect x="824.21" y="320.00" width="2.60" height="6.00" fill="#000"/>
<rect x="879.18" y="314.00" width="2.60" height="12.00" fill="#000"/>
<rect x="934.14" y="320.00" width="2.60" height="6.00" fill="#000"/>
<rect x="989.10" y="314.00" width="2.60" height="12.00" fill="#000"/>
</g>
<g id="bottom-axes">
<line x1="111.0" y1="366.6" x2="990.9" y2="366.6" stroke="#8a8a8a" stroke-width="1.1"/>
<line x1="990.4" y1="366.1" x2="990.4" y2="653.7" stroke="#141414" stroke-width="1.15"/>
<rect x="110.00" y="364.60" width="2.90" height="290.30" fill="#000"/>
<rect x="110.00" y="652.50" width="881.70" height="2.40" fill="#000"/>
<rect x="109.70" y="641.70" width="2.60" height="12.00" fill="#000"/>
<rect x="164.66" y="647.70" width="2.60" height="6.00" fill="#000"/>
<rect x="219.62" y="641.70" width="2.60" height="12.00" fill="#000"/>
<rect x="274.59" y="647.70" width="2.60" height="6.00" fill="#000"/>
<rect x="329.55" y="641.70" width="2.60" height="12.00" fill="#000"/>
<rect x="384.51" y="647.70" width="2.60" height="6.00" fill="#000"/>
<rect x="439.48" y="641.70" width="2.60" height="12.00" fill="#000"/>
<rect x="494.44" y="647.70" width="2.60" height="6.00" fill="#000"/>
<rect x="549.40" y="641.70" width="2.60" height="12.00" fill="#000"/>
<rect x="604.36" y="647.70" width="2.60" height="6.00" fill="#000"/>
<rect x="659.33" y="641.70" width="2.60" height="12.00" fill="#000"/>
<rect x="714.29" y="647.70" width="2.60" height="6.00" fill="#000"/>
<rect x="769.25" y="641.70" width="2.60" height="12.00" fill="#000"/>
<rect x="824.21" y="647.70" width="2.60" height="6.00" fill="#000"/>
<rect x="879.18" y="641.70" width="2.60" height="12.00" fill="#000"/>
<rect x="934.14" y="647.70" width="2.60" height="6.00" fill="#000"/>
<rect x="989.10" y="641.70" width="2.60" height="12.00" fill="#000"/>
</g>
<g id="yticks">
<rect x="111.00" y="306.50" width="12.00" height="2.60" fill="#000"/>
<text class="yl" x="98.6" y="315.1" text-anchor="end">0.0</text>
<rect x="111.00" y="270.79" width="12.00" height="2.60" fill="#000"/>
<text class="yl" x="98.6" y="279.4" text-anchor="end">0.1</text>
<rect x="111.00" y="235.08" width="12.00" height="2.60" fill="#000"/>
<text class="yl" x="98.6" y="243.7" text-anchor="end">0.2</text>
<rect x="111.00" y="199.37" width="12.00" height="2.60" fill="#000"/>
<text class="yl" x="98.6" y="208.0" text-anchor="end">0.3</text>
<rect x="111.00" y="163.66" width="12.00" height="2.60" fill="#000"/>
<text class="yl" x="98.6" y="172.3" text-anchor="end">0.4</text>
<rect x="111.00" y="127.95" width="12.00" height="2.60" fill="#000"/>
<text class="yl" x="98.6" y="136.6" text-anchor="end">0.5</text>
<rect x="111.00" y="92.24" width="12.00" height="2.60" fill="#000"/>
<text class="yl" x="98.6" y="100.8" text-anchor="end">0.6</text>
<rect x="111.00" y="56.53" width="12.00" height="2.60" fill="#000"/>
<text class="yl" x="98.6" y="65.1" text-anchor="end">0.7</text>
<text class="yl" x="98.6" y="661.3" text-anchor="end">1.5</text>
<rect x="111.00" y="614.20" width="12.00" height="2.60" fill="#000"/>
<text class="yl" x="98.6" y="623.1" text-anchor="end">2.0</text>
<rect x="111.00" y="576.00" width="12.00" height="2.60" fill="#000"/>
<text class="yl" x="98.6" y="584.9" text-anchor="end">2.5</text>
<rect x="111.00" y="537.80" width="12.00" height="2.60" fill="#000"/>
<text class="yl" x="98.6" y="546.7" text-anchor="end">3.0</text>
<rect x="111.00" y="499.60" width="12.00" height="2.60" fill="#000"/>
<text class="yl" x="98.6" y="508.5" text-anchor="end">3.5</text>
<rect x="111.00" y="461.40" width="12.00" height="2.60" fill="#000"/>
<text class="yl" x="98.6" y="470.3" text-anchor="end">4.0</text>
<rect x="111.00" y="423.20" width="12.00" height="2.60" fill="#000"/>
<text class="yl" x="98.6" y="432.1" text-anchor="end">4.5</text>
<rect x="111.00" y="385.00" width="12.00" height="2.60" fill="#000"/>
<text class="yl" x="98.6" y="393.9" text-anchor="end">5.0</text>
</g>
<g id="xlabels">
<text class="tl" x="111.0" y="358.7" text-anchor="middle">300</text>
<text class="tl" x="111.0" y="687.3" text-anchor="middle">300</text>
<text class="tl" x="220.9" y="358.7" text-anchor="middle">400</text>
<text class="tl" x="220.9" y="687.3" text-anchor="middle">400</text>
<text class="tl" x="330.9" y="358.7" text-anchor="middle">500</text>
<text class="tl" x="330.9" y="687.3" text-anchor="middle">500</text>
<text class="tl" x="440.8" y="358.7" text-anchor="middle">600</text>
<text class="tl" x="440.8" y="687.3" text-anchor="middle">600</text>
<text class="tl" x="550.7" y="358.7" text-anchor="middle">700</text>
<text class="tl" x="550.7" y="687.3" text-anchor="middle">700</text>
<text class="tl" x="660.6" y="358.7" text-anchor="middle">800</text>
<text class="tl" x="660.6" y="687.3" text-anchor="middle">800</text>
<text class="tl" x="770.6" y="358.7" text-anchor="middle">900</text>
<text class="tl" x="770.6" y="687.3" text-anchor="middle">900</text>
<text class="tl" x="880.5" y="358.7" text-anchor="middle">1000</text>
<text class="tl" x="880.5" y="687.3" text-anchor="middle">1000</text>
<text class="tl" x="990.4" y="358.7" text-anchor="middle">1100</text>
<text class="tl" x="990.4" y="687.3" text-anchor="middle">1100</text>
</g>
<g id="titles">
<text class="ti" x="550.3" y="736.6" text-anchor="middle">wavelength, nm</text>
<text class="ti" transform="translate(23.9,174.9) rotate(-90)" text-anchor="middle">k</text>
<text class="ti2" transform="translate(23.6,510.4) rotate(-90)" text-anchor="middle">Refractive index</text>
</g>
<g id="legend">
<line x1="167.5" y1="12.8" x2="238.7" y2="12.8" stroke="#000000" stroke-width="1.5"/>
<text class="ti" x="247.0" y="23.2">pure</text>
<line x1="318.0" y1="12.8" x2="389.2" y2="12.8" stroke="#ff0000" stroke-width="1.5"/>
<text class="ti" x="397.0" y="23.2">Cu:TiO<tspan class="sub" dx="0.7" dy="7.9">2</tspan></text>
<line x1="517.4" y1="12.8" x2="588.6" y2="12.8" stroke="#00ff00" stroke-width="1.5"/>
<text class="ti" x="596.6" y="23.2">Co:TiO<tspan class="sub" dx="0.7" dy="7.9">2</tspan></text>
<line x1="716.8" y1="12.8" x2="788.0" y2="12.8" stroke="#0000ff" stroke-width="1.5"/>
<text class="ti" x="795.8" y="23.2">Zn:TiO<tspan class="sub" dx="0.7" dy="7.9">2</tspan></text>
</g>
</svg>
</body></html>
